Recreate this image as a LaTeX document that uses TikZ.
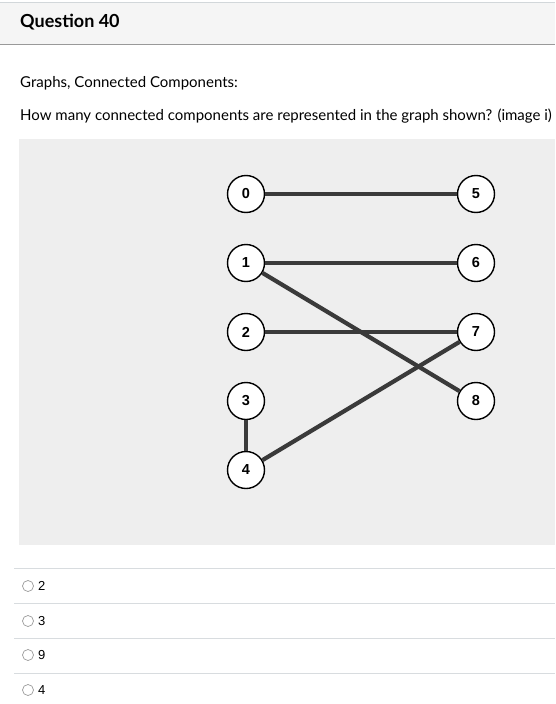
\documentclass[tikz,border=0pt]{standalone}
\usepackage{fontspec}
\setmainfont{Lato}
\newfontfamily\labfont{Liberation Sans}
\usetikzlibrary{positioning}
\definecolor{bandgray}{HTML}{F5F5F5}
\definecolor{panelgray}{HTML}{EEEEEE}
\definecolor{rulegray}{HTML}{C7CDD1}
\definecolor{edgegray}{HTML}{3A3A3A}
\tikzset{
  vtx/.style={circle, draw=black, line width=1.4pt, fill=white, minimum size=37pt, inner sep=0pt, font=\labfont\bfseries\fontsize{14.5}{14.5}\selectfont},
  edg/.style={draw=edgegray, line width=4.2pt},
  txt/.style={anchor=west, inner sep=0pt, font=\fontsize{15}{15}\selectfont},
  opt/.style={anchor=west, inner sep=0pt, font=\labfont\fontsize{13}{13}\selectfont},
  radio/.style={circle, draw=gray!80, line width=0.7pt, minimum size=11pt, inner sep=0pt},
  sep/.style={draw=rulegray!70, line width=1pt}
}
\begin{document}
\begin{tikzpicture}[x=1pt, y=-1pt]
		\useasboundingbox (0,0) rectangle (555,704);
		% header band
		\fill[bandgray] (0,2) rectangle (555,44);
		\draw[rulegray!80, line width=1pt] (0,2) -- (555,2);
		\draw[gray!80, line width=1pt] (0,44) -- (555,44);
		\node[anchor=west, inner sep=0pt, font=\bfseries\fontsize{18}{18}\selectfont] (title) at (20,22) {Question 40};
		\node[txt] (topic) at (20,83) {Graphs, Connected Components:};
		\node[txt] (ask) at (20,116) {How many connected components are represented in the graph shown? (image i)};
		% graph panel
		\fill[panelgray] (19,139) rectangle (555,545);
		\node[vtx] (v0) at (246,194) {0};
		\node[vtx] (v1) at (246,263) {1};
		\node[vtx] (v2) at (246,332) {2};
		\node[vtx] (v3) at (246,401) {3};
		\node[vtx] (v4) at (246,470) {4};
		\node[vtx] (v5) at (476,194) {5};
		\node[vtx] (v6) at (476,263) {6};
		\node[vtx] (v7) at (476,332) {7};
		\node[vtx] (v8) at (476,401) {8};
		\draw[edg] (v0) -- (v5);
		\draw[edg] (v1) -- (v6);
		\draw[edg] (v1) -- (v8);
		\draw[edg] (v2) -- (v7);
		\draw[edg] (v7) -- (v4);
		\draw[edg] (v3) -- (v4);
		% answer options
		\draw[sep] (14,568) -- (555,568);
		\draw[sep] (14,603) -- (555,603);
		\draw[sep] (14,638) -- (555,638);
		\draw[sep] (14,673) -- (555,673);
		\node[radio] (r1) at (28,586) {};
		\node[radio] (r2) at (28,621) {};
		\node[radio] (r3) at (28,655) {};
		\node[radio] (r4) at (28,690) {};
		\node[opt, right=4pt of r1] (a1) {2};
		\node[opt, right=4pt of r2] (a2) {3};
		\node[opt, right=4pt of r3] (a3) {9};
		\node[opt, right=4pt of r4] (a4) {4};
	\end{tikzpicture}
\end{document}
